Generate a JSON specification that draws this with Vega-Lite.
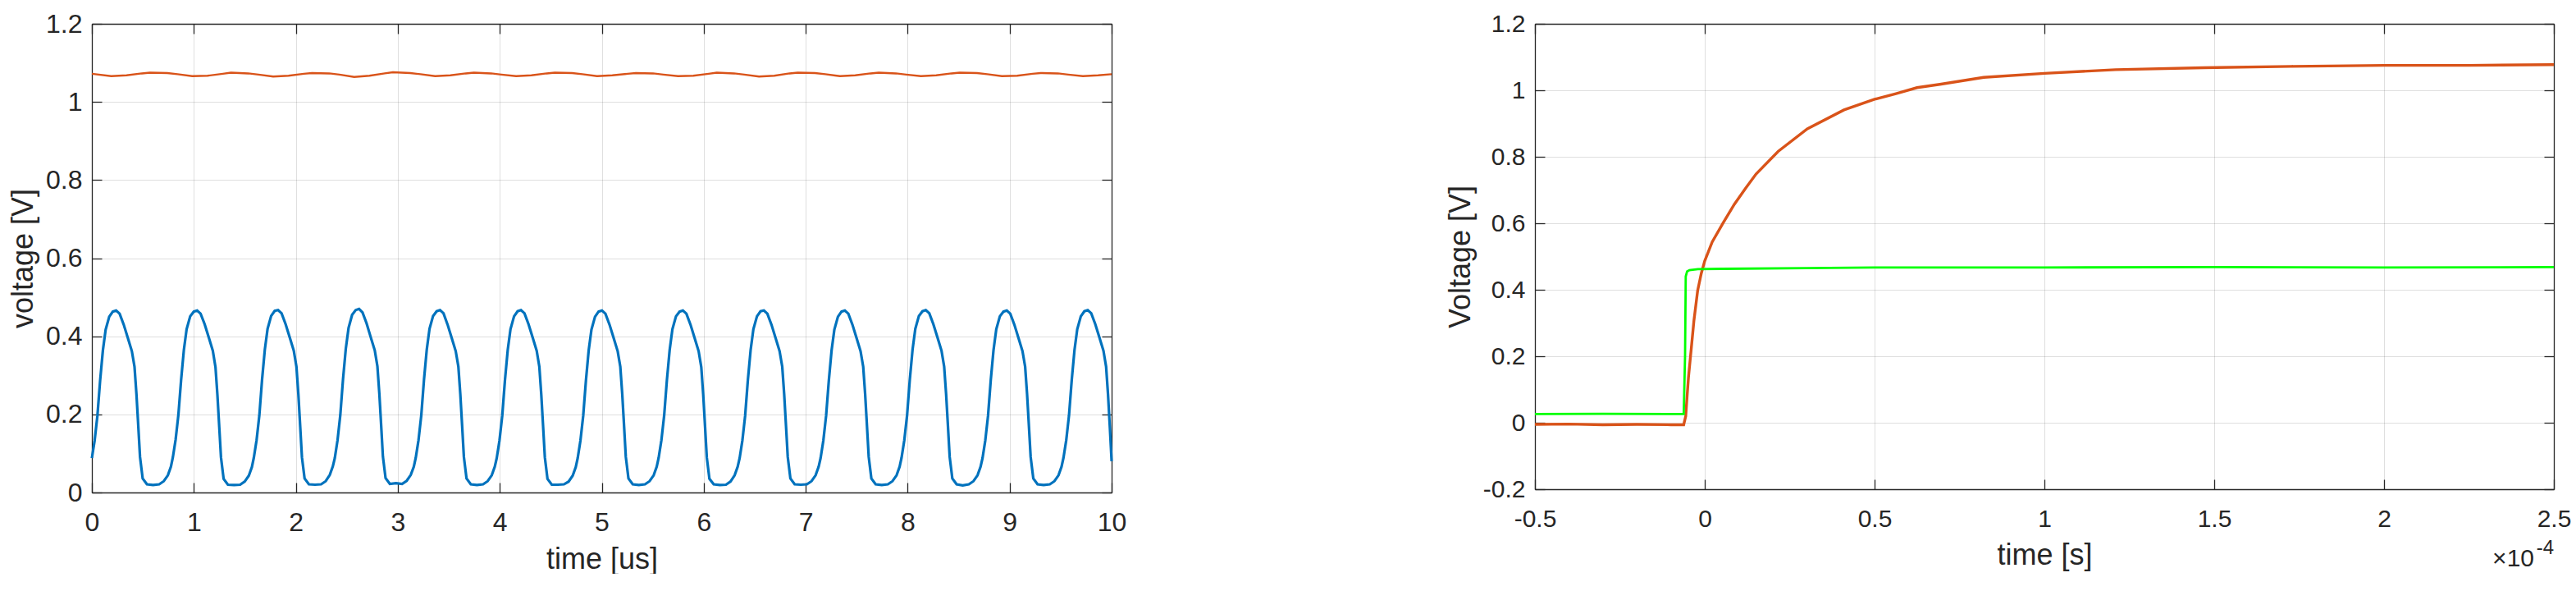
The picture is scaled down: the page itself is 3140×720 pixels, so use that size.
{
  "$schema": "https://vega.github.io/schema/vega-lite/v6.json",
  "background": "white",
  "padding": {"left": 10, "top": 13, "right": 0, "bottom": 0},
  "spacing": 389,
  "datasets": {
    "blue": [
      {"t":0,"v":0.088},{"t":0.027,"v":0.133},{"t":0.054,"v":0.196},{"t":0.081,"v":0.287},{"t":0.108,"v":0.364},{"t":0.135,"v":0.417},{"t":0.17,"v":0.45},{"t":0.205,"v":0.463},{"t":0.238,"v":0.466},{"t":0.272,"v":0.458},{"t":0.312,"v":0.43},{"t":0.352,"v":0.396},{"t":0.392,"v":0.362},{"t":0.418,"v":0.322},{"t":0.437,"v":0.252},{"t":0.455,"v":0.17},{"t":0.472,"v":0.091},{"t":0.498,"v":0.036},{"t":0.54,"v":0.021},{"t":0.6,"v":0.019},{"t":0.66,"v":0.021},{"t":0.705,"v":0.029},{"t":0.745,"v":0.044},{"t":0.775,"v":0.066},
      {"t":0.794,"v":0.09},{"t":0.821,"v":0.135},{"t":0.848,"v":0.198},{"t":0.875,"v":0.288},{"t":0.902,"v":0.365},{"t":0.929,"v":0.418},{"t":0.964,"v":0.451},{"t":0.999,"v":0.463},{"t":1.032,"v":0.466},{"t":1.066,"v":0.458},{"t":1.106,"v":0.431},{"t":1.146,"v":0.397},{"t":1.186,"v":0.363},{"t":1.212,"v":0.321},{"t":1.231,"v":0.25},{"t":1.249,"v":0.168},{"t":1.266,"v":0.09},{"t":1.292,"v":0.035},{"t":1.334,"v":0.02},{"t":1.394,"v":0.019},{"t":1.454,"v":0.02},{"t":1.499,"v":0.028},{"t":1.539,"v":0.043},{"t":1.569,"v":0.065},
      {"t":1.588,"v":0.089},{"t":1.615,"v":0.134},{"t":1.642,"v":0.197},{"t":1.669,"v":0.289},{"t":1.696,"v":0.366},{"t":1.723,"v":0.419},{"t":1.758,"v":0.452},{"t":1.793,"v":0.465},{"t":1.826,"v":0.467},{"t":1.86,"v":0.459},{"t":1.9,"v":0.431},{"t":1.94,"v":0.397},{"t":1.98,"v":0.363},{"t":2.006,"v":0.322},{"t":2.025,"v":0.251},{"t":2.043,"v":0.169},{"t":2.06,"v":0.09},{"t":2.086,"v":0.036},{"t":2.128,"v":0.021},{"t":2.188,"v":0.02},{"t":2.248,"v":0.021},{"t":2.293,"v":0.029},{"t":2.333,"v":0.045},{"t":2.363,"v":0.067},
      {"t":2.382,"v":0.088},{"t":2.409,"v":0.134},{"t":2.436,"v":0.198},{"t":2.463,"v":0.291},{"t":2.49,"v":0.368},{"t":2.517,"v":0.421},{"t":2.552,"v":0.455},{"t":2.587,"v":0.467},{"t":2.62,"v":0.47},{"t":2.654,"v":0.461},{"t":2.694,"v":0.433},{"t":2.734,"v":0.398},{"t":2.774,"v":0.364},{"t":2.8,"v":0.323},{"t":2.819,"v":0.253},{"t":2.837,"v":0.171},{"t":2.854,"v":0.092},{"t":2.88,"v":0.037},{"t":2.922,"v":0.022},{"t":2.982,"v":0.024},{"t":3.042,"v":0.022},{"t":3.087,"v":0.03},{"t":3.127,"v":0.045},{"t":3.157,"v":0.066},
      {"t":3.176,"v":0.089},{"t":3.203,"v":0.134},{"t":3.23,"v":0.197},{"t":3.257,"v":0.289},{"t":3.284,"v":0.366},{"t":3.311,"v":0.419},{"t":3.346,"v":0.452},{"t":3.381,"v":0.464},{"t":3.414,"v":0.467},{"t":3.448,"v":0.459},{"t":3.488,"v":0.43},{"t":3.528,"v":0.396},{"t":3.568,"v":0.362},{"t":3.594,"v":0.322},{"t":3.613,"v":0.252},{"t":3.631,"v":0.17},{"t":3.648,"v":0.091},{"t":3.674,"v":0.036},{"t":3.716,"v":0.021},{"t":3.776,"v":0.019},{"t":3.836,"v":0.021},{"t":3.881,"v":0.029},{"t":3.921,"v":0.044},{"t":3.951,"v":0.066},
      {"t":3.97,"v":0.088},{"t":3.997,"v":0.133},{"t":4.024,"v":0.196},{"t":4.051,"v":0.288},{"t":4.078,"v":0.365},{"t":4.105,"v":0.418},{"t":4.14,"v":0.451},{"t":4.175,"v":0.464},{"t":4.208,"v":0.467},{"t":4.242,"v":0.459},{"t":4.282,"v":0.431},{"t":4.322,"v":0.397},{"t":4.362,"v":0.363},{"t":4.388,"v":0.322},{"t":4.407,"v":0.251},{"t":4.425,"v":0.169},{"t":4.442,"v":0.09},{"t":4.468,"v":0.035},{"t":4.51,"v":0.02},{"t":4.57,"v":0.02},{"t":4.63,"v":0.021},{"t":4.675,"v":0.028},{"t":4.715,"v":0.043},{"t":4.745,"v":0.065},
      {"t":4.764,"v":0.088},{"t":4.791,"v":0.133},{"t":4.818,"v":0.196},{"t":4.845,"v":0.287},{"t":4.872,"v":0.364},{"t":4.899,"v":0.417},{"t":4.934,"v":0.45},{"t":4.969,"v":0.463},{"t":5.002,"v":0.466},{"t":5.036,"v":0.458},{"t":5.076,"v":0.43},{"t":5.116,"v":0.396},{"t":5.156,"v":0.362},{"t":5.182,"v":0.322},{"t":5.201,"v":0.252},{"t":5.219,"v":0.17},{"t":5.236,"v":0.091},{"t":5.262,"v":0.036},{"t":5.304,"v":0.021},{"t":5.364,"v":0.019},{"t":5.424,"v":0.021},{"t":5.469,"v":0.029},{"t":5.509,"v":0.044},{"t":5.539,"v":0.066},
      {"t":5.558,"v":0.089},{"t":5.585,"v":0.134},{"t":5.612,"v":0.197},{"t":5.639,"v":0.288},{"t":5.666,"v":0.365},{"t":5.693,"v":0.418},{"t":5.728,"v":0.451},{"t":5.763,"v":0.463},{"t":5.796,"v":0.466},{"t":5.83,"v":0.458},{"t":5.87,"v":0.43},{"t":5.91,"v":0.396},{"t":5.95,"v":0.362},{"t":5.976,"v":0.321},{"t":5.995,"v":0.251},{"t":6.013,"v":0.169},{"t":6.03,"v":0.09},{"t":6.056,"v":0.035},{"t":6.098,"v":0.021},{"t":6.158,"v":0.019},{"t":6.218,"v":0.02},{"t":6.263,"v":0.028},{"t":6.303,"v":0.044},{"t":6.333,"v":0.066},
      {"t":6.352,"v":0.088},{"t":6.379,"v":0.133},{"t":6.406,"v":0.196},{"t":6.433,"v":0.288},{"t":6.46,"v":0.365},{"t":6.487,"v":0.418},{"t":6.522,"v":0.451},{"t":6.557,"v":0.464},{"t":6.59,"v":0.466},{"t":6.624,"v":0.458},{"t":6.664,"v":0.43},{"t":6.704,"v":0.396},{"t":6.744,"v":0.362},{"t":6.77,"v":0.322},{"t":6.789,"v":0.252},{"t":6.807,"v":0.17},{"t":6.824,"v":0.091},{"t":6.85,"v":0.036},{"t":6.892,"v":0.021},{"t":6.952,"v":0.02},{"t":7.012,"v":0.021},{"t":7.057,"v":0.029},{"t":7.097,"v":0.044},{"t":7.127,"v":0.066},
      {"t":7.146,"v":0.088},{"t":7.173,"v":0.133},{"t":7.2,"v":0.196},{"t":7.227,"v":0.287},{"t":7.254,"v":0.364},{"t":7.281,"v":0.417},{"t":7.316,"v":0.45},{"t":7.351,"v":0.463},{"t":7.384,"v":0.466},{"t":7.418,"v":0.458},{"t":7.458,"v":0.43},{"t":7.498,"v":0.396},{"t":7.538,"v":0.362},{"t":7.564,"v":0.322},{"t":7.583,"v":0.252},{"t":7.601,"v":0.17},{"t":7.618,"v":0.091},{"t":7.644,"v":0.036},{"t":7.686,"v":0.021},{"t":7.746,"v":0.019},{"t":7.806,"v":0.021},{"t":7.851,"v":0.029},{"t":7.891,"v":0.044},{"t":7.921,"v":0.066},
      {"t":7.94,"v":0.089},{"t":7.967,"v":0.134},{"t":7.994,"v":0.197},{"t":8.021,"v":0.289},{"t":8.048,"v":0.366},{"t":8.075,"v":0.419},{"t":8.11,"v":0.452},{"t":8.145,"v":0.464},{"t":8.178,"v":0.467},{"t":8.212,"v":0.459},{"t":8.252,"v":0.431},{"t":8.292,"v":0.397},{"t":8.332,"v":0.363},{"t":8.358,"v":0.322},{"t":8.377,"v":0.252},{"t":8.395,"v":0.17},{"t":8.412,"v":0.091},{"t":8.438,"v":0.036},{"t":8.48,"v":0.021},{"t":8.54,"v":0.018},{"t":8.6,"v":0.021},{"t":8.645,"v":0.029},{"t":8.685,"v":0.044},{"t":8.715,"v":0.066},
      {"t":8.734,"v":0.088},{"t":8.761,"v":0.133},{"t":8.788,"v":0.196},{"t":8.815,"v":0.288},{"t":8.842,"v":0.365},{"t":8.869,"v":0.418},{"t":8.904,"v":0.451},{"t":8.939,"v":0.463},{"t":8.972,"v":0.466},{"t":9.006,"v":0.458},{"t":9.046,"v":0.43},{"t":9.086,"v":0.396},{"t":9.126,"v":0.362},{"t":9.152,"v":0.322},{"t":9.171,"v":0.252},{"t":9.189,"v":0.17},{"t":9.206,"v":0.091},{"t":9.232,"v":0.036},{"t":9.274,"v":0.021},{"t":9.334,"v":0.019},{"t":9.394,"v":0.021},{"t":9.439,"v":0.029},{"t":9.479,"v":0.044},{"t":9.509,"v":0.066},
      {"t":9.528,"v":0.089},{"t":9.555,"v":0.134},{"t":9.582,"v":0.197},{"t":9.609,"v":0.288},{"t":9.636,"v":0.365},{"t":9.663,"v":0.418},{"t":9.698,"v":0.451},{"t":9.733,"v":0.464},{"t":9.766,"v":0.467},{"t":9.8,"v":0.459},{"t":9.84,"v":0.431},{"t":9.88,"v":0.397},{"t":9.92,"v":0.363},{"t":9.946,"v":0.322},{"t":9.965,"v":0.25},{"t":9.983,"v":0.165},{"t":10,"v":0.08}
    ],
    "orangeL": [
      {"t":0,"v":1.072},
      {"t":0.19,"v":1.066},{"t":0.34,"v":1.068},{"t":0.49,"v":1.073},{"t":0.57,"v":1.075},{"t":0.74,"v":1.074},{"t":0.84,"v":1.071},
      {"t":0.984,"v":1.066},{"t":1.134,"v":1.067},{"t":1.284,"v":1.072},{"t":1.364,"v":1.075},{"t":1.534,"v":1.073},{"t":1.634,"v":1.07},
      {"t":1.778,"v":1.065},{"t":1.928,"v":1.067},{"t":2.078,"v":1.072},{"t":2.158,"v":1.074},{"t":2.328,"v":1.073},{"t":2.428,"v":1.07},
      {"t":2.572,"v":1.064},{"t":2.722,"v":1.067},{"t":2.872,"v":1.073},{"t":2.952,"v":1.076},{"t":3.122,"v":1.074},{"t":3.222,"v":1.071},
      {"t":3.366,"v":1.066},{"t":3.516,"v":1.068},{"t":3.666,"v":1.073},{"t":3.746,"v":1.075},{"t":3.916,"v":1.073},{"t":4.016,"v":1.07},
      {"t":4.16,"v":1.066},{"t":4.31,"v":1.068},{"t":4.46,"v":1.073},{"t":4.54,"v":1.075},{"t":4.71,"v":1.074},{"t":4.81,"v":1.071},
      {"t":4.954,"v":1.066},{"t":5.104,"v":1.068},{"t":5.254,"v":1.072},{"t":5.334,"v":1.074},{"t":5.504,"v":1.073},{"t":5.604,"v":1.07},
      {"t":5.748,"v":1.066},{"t":5.898,"v":1.067},{"t":6.048,"v":1.072},{"t":6.128,"v":1.075},{"t":6.298,"v":1.073},{"t":6.398,"v":1.07},
      {"t":6.542,"v":1.065},{"t":6.692,"v":1.067},{"t":6.842,"v":1.073},{"t":6.922,"v":1.075},{"t":7.092,"v":1.074},{"t":7.192,"v":1.071},
      {"t":7.336,"v":1.066},{"t":7.486,"v":1.068},{"t":7.636,"v":1.073},{"t":7.716,"v":1.075},{"t":7.886,"v":1.073},{"t":7.986,"v":1.07},
      {"t":8.13,"v":1.066},{"t":8.28,"v":1.068},{"t":8.43,"v":1.073},{"t":8.51,"v":1.075},{"t":8.68,"v":1.074},{"t":8.78,"v":1.071},
      {"t":8.924,"v":1.066},{"t":9.074,"v":1.067},{"t":9.224,"v":1.072},{"t":9.304,"v":1.074},{"t":9.474,"v":1.073},{"t":9.574,"v":1.07},
      {"t":9.718,"v":1.066},{"t":9.868,"v":1.068},{"t":10,"v":1.071}
    ],
    "orangeR": [
      {"t":-0.5,"v":-0.005},{"t":-0.4,"v":-0.004},{"t":-0.3,"v":-0.006},{"t":-0.2,"v":-0.005},{"t":-0.1,"v":-0.006},{"t":-0.062,"v":-0.006},
      {"t":-0.056,"v":0.02},{"t":-0.052,"v":0.08},{"t":-0.048,"v":0.136},{"t":-0.04,"v":0.22},{"t":-0.032,"v":0.306},{"t":-0.021,"v":0.397},{"t":-0.01,"v":0.45},
      {"t":0,"v":0.487},{"t":0.022,"v":0.544},{"t":0.054,"v":0.601},{"t":0.087,"v":0.657},{"t":0.12,"v":0.705},{"t":0.151,"v":0.748},{"t":0.216,"v":0.816},
      {"t":0.302,"v":0.884},{"t":0.41,"v":0.941},{"t":0.5,"v":0.973},{"t":0.563,"v":0.99},{"t":0.625,"v":1.008},{"t":0.692,"v":1.018},{"t":0.821,"v":1.039},
      {"t":1,"v":1.051},{"t":1.21,"v":1.062},{"t":1.469,"v":1.068},{"t":1.727,"v":1.072},{"t":2,"v":1.075},{"t":2.247,"v":1.075},{"t":2.5,"v":1.077}
    ],
    "green": [
      {"t":-0.5,"v":0.026},{"t":-0.3,"v":0.027},{"t":-0.1,"v":0.026},{"t":-0.062,"v":0.026},{"t":-0.058,"v":0.2},{"t":-0.056,"v":0.44},
      {"t":-0.052,"v":0.455},{"t":-0.045,"v":0.459},{"t":-0.02,"v":0.462},{"t":0.05,"v":0.463},{"t":0.3,"v":0.465},{"t":0.5,"v":0.467},
      {"t":1,"v":0.467},{"t":1.5,"v":0.468},{"t":2,"v":0.467},{"t":2.5,"v":0.468}
    ]
  },
  "hconcat": [
    {
      "width": 1243,
      "height": 571,
      "layer": [
        {
          "data": {"name": "blue"},
          "mark": {"type": "line", "color": "#0072BD", "strokeWidth": 3.2},
          "encoding": {
            "x": {"field": "t", "type": "quantitative", "scale": {"domain": [0, 10], "nice": false},
                  "axis": {"orient": "bottom", "title": "time [us]", "values": [0,1,2,3,4,5,6,7,8,9,10], "grid": true, "labelFontSize": 32, "format": "~f"}},
            "y": {"field": "v", "type": "quantitative", "scale": {"domain": [0, 1.2], "nice": false, "zero": false},
                  "axis": {"orient": "left", "title": "voltage [V]", "values": [0,0.2,0.4,0.6,0.8,1,1.2], "grid": true, "labelFontSize": 32, "format": "~f"}}
          }
        },
        {
          "data": {"name": "orangeL"},
          "mark": {"type": "line", "color": "#D95319", "strokeWidth": 2.4},
          "encoding": {
            "x": {"field": "t", "type": "quantitative",
                  "axis": {"orient": "top", "title": null, "labels": false, "grid": false, "values": [0,1,2,3,4,5,6,7,8,9,10]}},
            "y": {"field": "v", "type": "quantitative",
                  "axis": {"orient": "right", "title": null, "labels": false, "grid": false, "values": [0,0.2,0.4,0.6,0.8,1,1.2]}}
          }
        }
      ]
    },
    {
      "width": 1242,
      "height": 567,
      "layer": [
        {
          "data": {"name": "orangeR"},
          "mark": {"type": "line", "color": "#D95319", "strokeWidth": 3.4},
          "encoding": {
            "x": {"field": "t", "type": "quantitative", "scale": {"domain": [-0.5, 2.5], "nice": false, "zero": false},
                  "axis": {"orient": "bottom", "title": "time [s]", "values": [-0.5,0,0.5,1,1.5,2,2.5], "grid": true, "format": "~f", "labelExpr": "replace(datum.label, '\u2212', '-')"}},
            "y": {"field": "v", "type": "quantitative", "scale": {"domain": [-0.2, 1.2], "nice": false, "zero": false},
                  "axis": {"orient": "left", "title": "Voltage [V]", "values": [-0.2,0,0.2,0.4,0.6,0.8,1,1.2], "grid": true, "format": "~f", "labelExpr": "replace(datum.label, '\u2212', '-')"}}
          }
        },
        {
          "data": {"name": "green"},
          "mark": {"type": "line", "color": "#00FF00", "strokeWidth": 2.8},
          "encoding": {
            "x": {"field": "t", "type": "quantitative",
                  "axis": {"orient": "top", "title": null, "labels": false, "grid": false, "values": [-0.5,0,0.5,1,1.5,2,2.5]}},
            "y": {"field": "v", "type": "quantitative",
                  "axis": {"orient": "right", "title": null, "labels": false, "grid": false, "values": [-0.2,0,0.2,0.4,0.6,0.8,1,1.2]}}
          }
        },
        {
          "data": {"values": [{"t": 2.5, "v": -0.41, "label": "×10"}]},
          "mark": {"type": "text", "align": "right", "baseline": "middle", "fontSize": 30, "dx": -24, "color": "#262626", "font": "Liberation Sans"},
          "encoding": {
            "x": {"field": "t", "type": "quantitative", "axis": null},
            "y": {"field": "v", "type": "quantitative", "axis": null},
            "text": {"field": "label"}
          }
        },
        {
          "data": {"values": [{"t": 2.5, "v": -0.378, "label": "-4"}]},
          "mark": {"type": "text", "align": "right", "baseline": "middle", "fontSize": 24, "color": "#262626", "font": "Liberation Sans"},
          "encoding": {
            "x": {"field": "t", "type": "quantitative", "axis": null},
            "y": {"field": "v", "type": "quantitative", "axis": null},
            "text": {"field": "label"}
          }
        }
      ]
    }
  ],
  "config": {
    "view": {"stroke": null},
    "font": "Liberation Sans",
    "axis": {
      "domainColor": "#262626", "domainWidth": 1.3,
      "tickColor": "#262626", "tickWidth": 1.3, "tickSize": -12,
      "labelColor": "#262626", "labelFont": "Liberation Sans", "labelFontSize": 30,
      "labelFlush": false, "labelOverlap": false,
      "titleColor": "#262626", "titleFont": "Liberation Sans", "titleFontSize": 36, "titleFontWeight": "normal",
      "gridColor": "#262626", "gridOpacity": 0.15, "gridWidth": 1
    },
    "axisX": {"labelPadding": 33, "titlePadding": 12},
    "axisY": {"labelPadding": 24, "titlePadding": 8}
  }
}
